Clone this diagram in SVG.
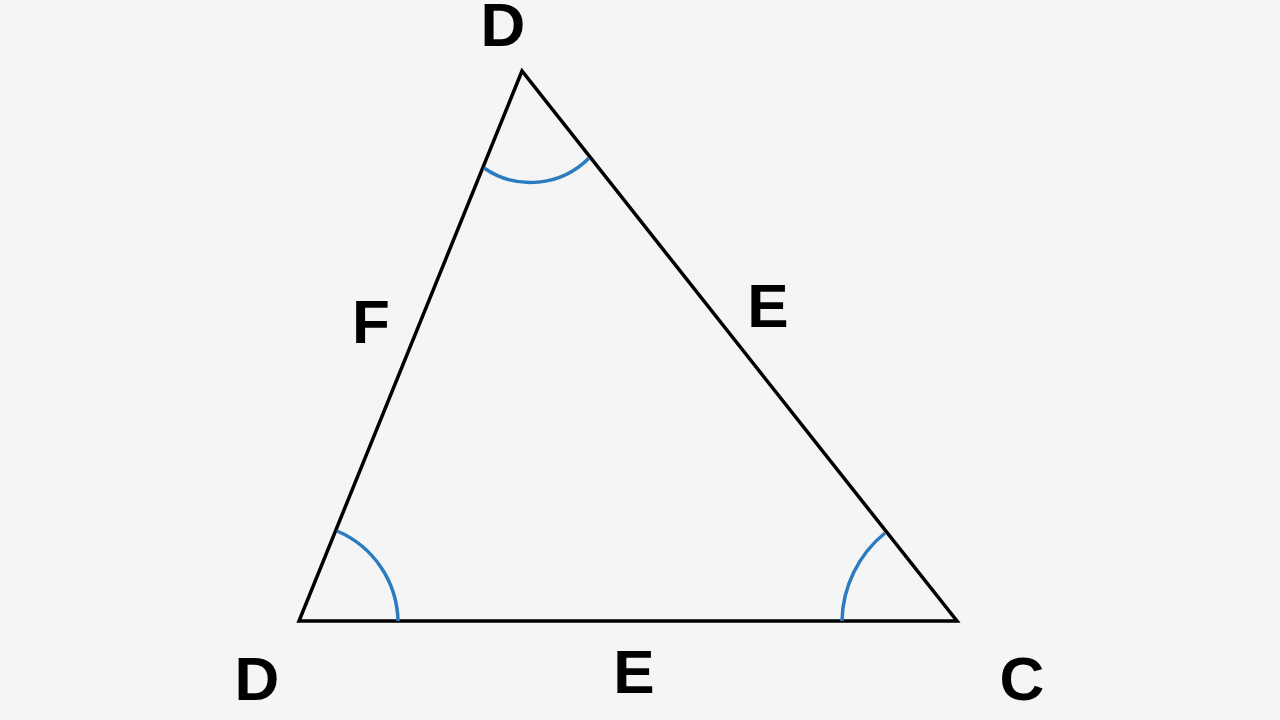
<svg xmlns="http://www.w3.org/2000/svg" width="1280" height="720" viewBox="0 0 1280 720">
<style>
.side{stroke:#000;stroke-width:3.5;fill:none;stroke-linejoin:miter;stroke-linecap:round}
.ang{stroke:#2b7bc0;stroke-width:3.5;fill:none}
.lbl{font-family:"Liberation Sans",Arial,sans-serif;font-weight:bold;font-size:62px;fill:#000;text-anchor:middle}
</style>
<rect width="1280" height="720" fill="#f5f5f5"/>
<g id="triangle">
<path class="side" d="M522,71 L299,621 L957,621 Z"/>
</g>
<g id="angles">
<path class="ang" d="M484,168 A82,82 0 0 0 589,158"/>
<path class="ang" d="M337,531 A100,100 0 0 1 398,621"/>
<path class="ang" d="M885,533 A116,116 0 0 0 842,621"/>
</g>
<g id="labels">
<text class="lbl" x="503" y="46">D</text>
<text class="lbl" x="371" y="343">F</text>
<text class="lbl" x="768" y="327">E</text>
<text class="lbl" x="257" y="700">D</text>
<text class="lbl" x="634" y="693">E</text>
<text class="lbl" x="1022" y="700">C</text>
</g>
</svg>
